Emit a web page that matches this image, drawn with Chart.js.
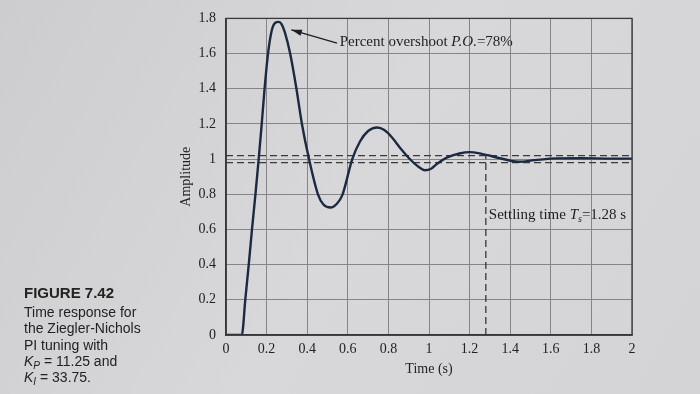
<!DOCTYPE html>
<html>
<head>
<meta charset="utf-8">
<script src="https://cdn.jsdelivr.net/npm/chart.js@4"></script>
<style>
  html, body { margin: 0; padding: 0; background: #d5d5d7; }
  #wrap { position: relative; width: 700px; height: 394px; }
  canvas { display: block; }
</style>
</head>
<body>
<div id="wrap"><canvas id="c" width="700" height="394"></canvas></div>
<script>
// ---- data ----
const timeS = [0, 0.04, 0.078, 0.095, 0.112, 0.128, 0.145, 0.161, 0.176, 0.19, 0.207, 0.225, 0.243, 0.26, 0.275, 0.29, 0.316, 0.347, 0.374, 0.409, 0.453, 0.48, 0.515, 0.545, 0.573, 0.622, 0.66, 0.7, 0.745, 0.78, 0.82, 0.86, 0.91, 0.95, 0.98, 1.01, 1.04, 1.09, 1.15, 1.2, 1.26, 1.35, 1.44, 1.52, 1.63, 1.75, 1.9, 2.0];
const amplitude = [0, 0, 0, 0.2, 0.4, 0.6, 0.8, 1.0, 1.2, 1.4, 1.6, 1.73, 1.775, 1.78, 1.765, 1.72, 1.6, 1.4, 1.2, 1.0, 0.8, 0.742, 0.725, 0.745, 0.795, 1.0, 1.1, 1.16, 1.18, 1.165, 1.12, 1.06, 0.995, 0.955, 0.937, 0.945, 0.974, 1.01, 1.032, 1.04, 1.03, 1.005, 0.985, 0.994, 1.004, 1.005, 1.003, 1.003];
const xTicks = [0, 0.2, 0.4, 0.6, 0.8, 1, 1.2, 1.4, 1.6, 1.8, 2];
const yTicks = [0, 0.2, 0.4, 0.6, 0.8, 1, 1.2, 1.4, 1.6, 1.8];
const bandUpper = 1.02;
const bandLower = 0.98;
const settlingTime = 1.28;
const overshootPct = 78;
const captionLines = ["Time response for", "the Ziegler-Nichols", "PI tuning with"];

const serif = '"Liberation Serif", "DejaVu Serif", serif';
const sans = '"Liberation Sans", Arial, sans-serif';
const fmt = v => String(Number(v.toFixed(1)));

const pts = timeS.map((t, i) => ({ x: t, y: amplitude[i] }));

const bgPlugin = {
  id: 'bg',
  beforeDraw(chart) {
    const ctx = chart.ctx;
    ctx.save();
    const g = ctx.createLinearGradient(0, 0, 700, 394);
    g.addColorStop(0, '#cdcdd0');
    g.addColorStop(0.5, '#d8d8da');
    g.addColorStop(1, '#d4d4d6');
    ctx.fillStyle = g;
    ctx.fillRect(0, 0, 700, 394);
    ctx.restore();
  }
};

const notePlugin = {
  id: 'notes',
  afterDraw(chart) {
    const ctx = chart.ctx;
    const xs = chart.scales.x, ys = chart.scales.y;
    const px = v => xs.getPixelForValue(v), py = v => ys.getPixelForValue(v);
    const a = chart.chartArea;
    ctx.save();
    // frame
    ctx.strokeStyle = '#3a3a3a';
    ctx.lineWidth = 1.3;
    ctx.strokeRect(a.left, a.top, a.right - a.left, a.bottom - a.top);
    ctx.fillStyle = '#1e1e1e';
    ctx.strokeStyle = '#1e1e1e';
    // overshoot arrow
    const tx = px(0.547), ty = py(1.66), hx = px(0.322), hy = py(1.735);
    ctx.lineWidth = 1.3;
    ctx.beginPath(); ctx.moveTo(tx, ty); ctx.lineTo(hx, hy); ctx.stroke();
    const ang = Math.atan2(hy - ty, hx - tx);
    ctx.beginPath();
    ctx.moveTo(hx, hy);
    ctx.lineTo(hx - 11 * Math.cos(ang - 0.3), hy - 11 * Math.sin(ang - 0.3));
    ctx.lineTo(hx - 11 * Math.cos(ang + 0.3), hy - 11 * Math.sin(ang + 0.3));
    ctx.closePath(); ctx.fill();
    // overshoot text
    let x = px(0.56), y = py(1.665);
    ctx.textBaseline = 'middle';
    ctx.textAlign = 'left';
    ctx.font = '15px ' + serif;
    ctx.fillText('Percent overshoot ', x, y); x += ctx.measureText('Percent overshoot ').width;
    ctx.font = 'italic 15px ' + serif;
    ctx.fillText('P.O.', x, y); x += ctx.measureText('P.O.').width;
    ctx.font = '15px ' + serif;
    ctx.fillText('=' + overshootPct + '%', x, y);
    // settling text
    x = px(settlingTime) + 3; y = py(0.68);
    ctx.fillText('Settling time ', x, y); x += ctx.measureText('Settling time ').width;
    ctx.font = 'italic 15px ' + serif;
    ctx.fillText('T', x, y); x += ctx.measureText('T').width;
    ctx.font = 'italic 10px ' + serif;
    ctx.fillText('s', x, y + 4); x += ctx.measureText('s').width;
    ctx.font = '15px ' + serif;
    ctx.fillText('=' + settlingTime + ' s', x, y);
    // figure caption
    ctx.fillStyle = '#222';
    ctx.font = 'bold 15px ' + sans;
    ctx.textBaseline = 'alphabetic';
    ctx.fillText('FIGURE 7.42', 24, 298);
    ctx.font = '14px ' + sans;
    captionLines.forEach((s, i) => ctx.fillText(s, 24, 317 + i * 16.3));
    const kLine = (sub, rest, cy) => {
      ctx.font = 'italic 14px ' + sans; ctx.fillText('K', 24, cy);
      let cx = 24 + ctx.measureText('K').width;
      ctx.font = 'italic 10px ' + sans; ctx.fillText(sub, cx, cy + 3); cx += ctx.measureText(sub).width;
      ctx.font = '14px ' + sans; ctx.fillText(rest, cx, cy);
    };
    kLine('P', ' = 11.25 and', 317 + 3 * 16.3);
    kLine('I', ' = 33.75.', 317 + 4 * 16.3);
    ctx.restore();
  }
};

new Chart(document.getElementById('c'), {
  type: 'scatter',
  data: {
    datasets: [
      {
        label: 'Step response',
        data: pts,
        showLine: true,
        borderColor: '#1b2a40',
        borderWidth: 2.4,
        pointRadius: 0,
        cubicInterpolationMode: 'monotone',
        order: 0
      },
      {
        label: 'upper band',
        data: [{ x: xTicks[0], y: bandUpper }, { x: xTicks[xTicks.length - 1], y: bandUpper }],
        showLine: true, borderColor: '#3a3a3a', borderWidth: 1.2, borderDash: [7, 4], pointRadius: 0, order: 1
      },
      {
        label: 'lower band',
        data: [{ x: xTicks[0], y: bandLower }, { x: xTicks[xTicks.length - 1], y: bandLower }],
        showLine: true, borderColor: '#3a3a3a', borderWidth: 1.2, borderDash: [7, 4], pointRadius: 0, order: 1
      },
      {
        label: 'settling',
        data: [{ x: settlingTime, y: 0 }, { x: settlingTime, y: bandUpper }],
        showLine: true, borderColor: '#2a2a2a', borderWidth: 1.2, borderDash: [7, 4], pointRadius: 0, order: 1
      }
    ]
  },
  options: {
    responsive: false,
    animation: false,
    events: [],
    layout: { padding: { left: 166, top: 18, right: 68, bottom: 9 } },
    plugins: { legend: { display: false }, tooltip: { enabled: false } },
    scales: {
      x: {
        type: 'linear', min: 0, max: 2,
        afterBuildTicks: s => { s.ticks = xTicks.map(v => ({ value: v })); },
        afterFit: s => { s.height = 50; },
        grid: { color: '#858587', lineWidth: 1, drawTicks: false },
        border: { color: '#333', width: 1.5 },
        ticks: { padding: 6, color: '#222', font: { family: serif, size: 14 }, callback: v => fmt(v), maxRotation: 0, autoSkip: false },
        title: { display: true, text: 'Time (s)', color: '#222', font: { family: serif, size: 14 }, padding: { top: 0, bottom: 7 } }
      },
      y: {
        type: 'linear', min: 0, max: 1.8,
        afterBuildTicks: s => { s.ticks = yTicks.map(v => ({ value: v })); },
        afterFit: s => { s.width = 60; },
        grid: { color: '#858587', lineWidth: 1, drawTicks: false },
        border: { color: '#333', width: 1.5 },
        ticks: { padding: 10, color: '#222', font: { family: serif, size: 14 }, callback: v => fmt(v), autoSkip: false },
        title: { display: true, text: 'Amplitude', color: '#222', font: { family: serif, size: 14 }, padding: { top: 12, bottom: 0 } }
      }
    }
  },
  plugins: [bgPlugin, notePlugin]
});
</script>
</body>
</html>
